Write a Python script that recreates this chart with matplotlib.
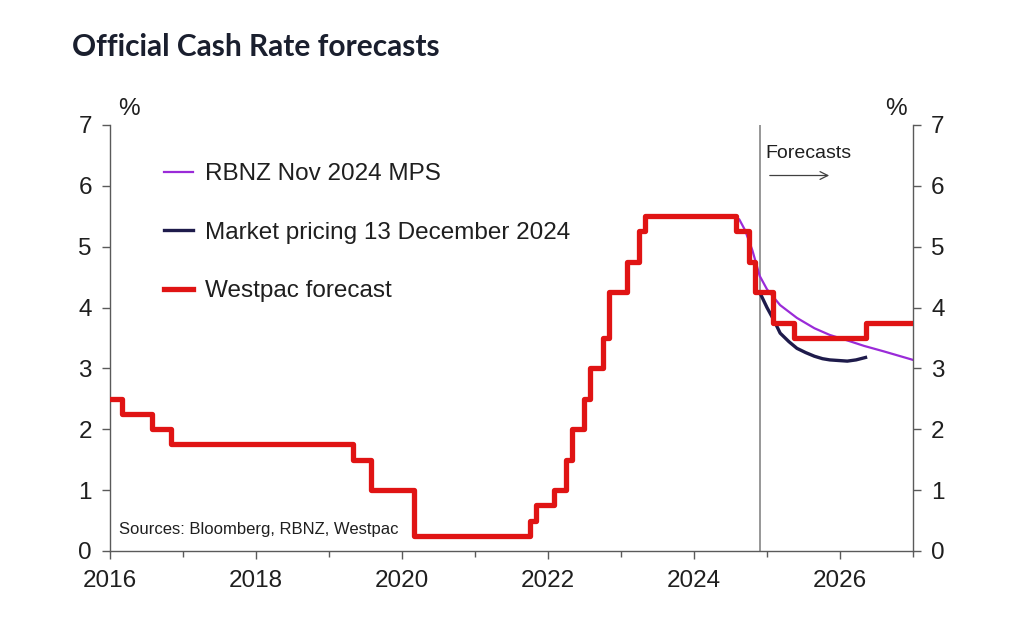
import numpy as np
import matplotlib
matplotlib.use("Agg")
import matplotlib.pyplot as plt
from matplotlib.ticker import MultipleLocator

plt.rcParams['font.family'] = ['Liberation Sans', 'DejaVu Sans']

# Westpac OCR history + forecast (step changes, decimal years)
ocr_dates = [2016.0, 2016.17, 2016.58, 2016.83, 2019.33, 2019.58, 2020.17,
             2021.75, 2021.83, 2022.08, 2022.25, 2022.33, 2022.5, 2022.58,
             2022.75, 2022.83, 2023.08, 2023.25, 2023.33, 2024.58, 2024.75,
             2024.83, 2025.08, 2025.37, 2026.35, 2027.0]
ocr_rate = [2.5, 2.25, 2.0, 1.75, 1.5, 1.0, 0.25,
            0.5, 0.75, 1.0, 1.5, 2.0, 2.5, 3.0,
            3.5, 4.25, 4.75, 5.25, 5.5, 5.25, 4.75,
            4.25, 3.75, 3.5, 3.75, 3.75]

# RBNZ Nov 2024 MPS track
rbnz_dates = [2024.5, 2024.62, 2024.7, 2024.8, 2024.9, 2025.0, 2025.18, 2025.41,
              2025.65, 2025.86, 2026.1, 2026.33, 2026.6, 2026.8, 2027.0]
rbnz_rate = [5.5, 5.45, 5.27, 4.94, 4.52, 4.3, 4.04, 3.83,
             3.66, 3.55, 3.46, 3.37, 3.28, 3.21, 3.14]

# Market pricing 13 December 2024
mkt_dates = [2024.9, 2025.0, 2025.1, 2025.18, 2025.3, 2025.41, 2025.53, 2025.65,
             2025.76, 2025.86, 2025.98, 2026.1, 2026.22, 2026.35]
mkt_rate = [4.25, 4.0, 3.78, 3.58, 3.44, 3.33, 3.26, 3.2,
            3.16, 3.14, 3.13, 3.12, 3.14, 3.18]

forecast_start = 2024.9
year_ticks = [2016, 2018, 2020, 2022, 2024, 2026]

txt = '#1f1f1f'
spine_col = '#5a5a5a'

fig = plt.figure(figsize=(10.24, 6.43), dpi=100)
ax = fig.add_axes([0.1074, 0.1431, 0.7842, 0.6625])

ax.plot(rbnz_dates, rbnz_rate, color='#9a2bd8', lw=1.6, label='RBNZ Nov 2024 MPS', zorder=2)
ax.plot(mkt_dates, mkt_rate, color='#1e1b4b', lw=2.4, label='Market pricing 13 December 2024', zorder=3)
ax.step(ocr_dates, ocr_rate, where='post', color='#e01414', lw=3.8, label='Westpac forecast', zorder=4)

ax.axvline(forecast_start, color='#7a7a7a', lw=1.1, zorder=1)
ax.text(forecast_start + 0.08, 6.53, 'Forecasts', fontsize=14, color=txt, va='center', ha='left')
ax.annotate('', xy=(forecast_start + 0.99, 6.17), xytext=(forecast_start + 0.1, 6.17),
            arrowprops=dict(arrowstyle='->', color='#404040', lw=0.9, mutation_scale=14))

ax.set_xlim(2016, 2027)
ax.set_ylim(0, 7)
ax.set_xticks(year_ticks)
ax.xaxis.set_minor_locator(MultipleLocator(1))
ax.yaxis.set_major_locator(MultipleLocator(1))

ax.spines['top'].set_visible(False)
for s in ['left', 'right', 'bottom']:
    ax.spines[s].set_color(spine_col)
    ax.spines[s].set_linewidth(1.0)

ax.tick_params(axis='both', which='major', labelsize=17.5, colors=spine_col,
               labelcolor=txt, length=6, width=1.0)
ax.tick_params(axis='x', which='minor', length=4, width=1.0, colors=spine_col)
ax.tick_params(axis='x', pad=8)
ax.tick_params(axis='y', pad=7)
ax.tick_params(axis='y', which='major', right=True, labelright=True)

ax.text(0.01, 1.012, '%', transform=ax.transAxes, fontsize=17.5, color=txt, ha='left', va='bottom')
ax.text(0.965, 1.012, '%', transform=ax.transAxes, fontsize=17.5, color=txt, ha='left', va='bottom')

ax.text(2016.13, 0.28, 'Sources: Bloomberg, RBNZ, Westpac', fontsize=12, color=txt)

leg = ax.legend(loc='upper left', bbox_to_anchor=(0.04, 0.962), frameon=False,
                fontsize=17.5, handlelength=1.2, handletextpad=0.5, labelspacing=1.5)
for t in leg.get_texts():
    t.set_color(txt)

fig.text(0.070, 0.927, 'Official Cash Rate forecasts', fontsize=21.5, fontweight='bold',
         family=['Lato', 'DejaVu Sans'], color='#1a1f2e', ha='left', va='center')

fig.savefig('out.png', dpi=100, facecolor='white')
